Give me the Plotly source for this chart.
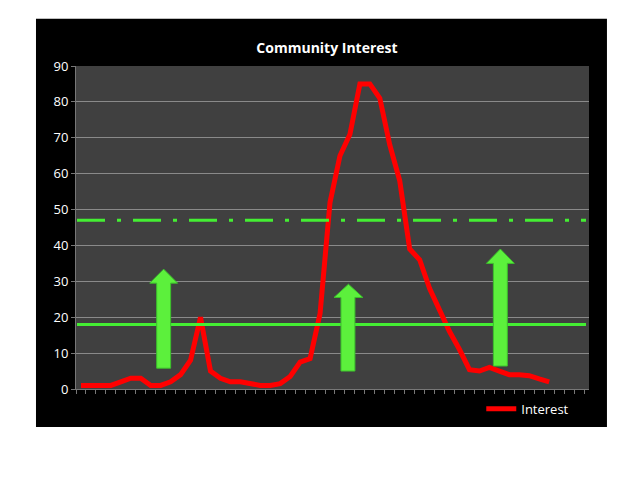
import plotly.graph_objects as go

interest = [1, 1, 1, 1, 2, 3, 3, 1, 1, 2, 4, 8, 20, 5, 3, 2, 2, 1.5, 1, 1, 1.5, 3.5, 7.5, 8.5,
            21, 52, 65, 71, 85, 85, 81, 68, 58, 39, 36, 28, 22, 16, 11, 5.4, 5, 6, 5, 4, 4, 3.7, 2.8, 2]
x_idx = list(range(len(interest)))
lower_level = 18
upper_level = 47
yticks = [0, 10, 20, 30, 40, 50, 60, 70, 80, 90]
# arrows: shaft_x0, shaft_x1, head_x0, head_x1, bottom, head_base, top
arrows = [(7.6, 9.0, 6.9, 9.7, 5.8, 29.5, 33.4),
          (26.1, 27.5, 25.4, 28.3, 5.0, 25.5, 29.2),
          (41.4, 42.8, 40.7, 43.5, 6.4, 35.0, 39.0)]

fig = go.Figure()
fig.add_trace(go.Scatter(x=x_idx, y=interest, mode="lines", name="Interest",
                         line=dict(color="#ff0000", width=5)))
fig.add_trace(go.Scatter(x=[-0.4, 50.7], y=[lower_level] * 2, mode="lines", showlegend=False,
                         line=dict(color="#44ee33", width=3), hoverinfo="skip"))
fig.add_trace(go.Scatter(x=[-0.4, 50.7], y=[upper_level] * 2, mode="lines", showlegend=False,
                         line=dict(color="#44ee33", width=3, dash="28px,12px,4px,12px"), hoverinfo="skip"))

shapes = [
    dict(type="rect", xref="paper", yref="paper", x0=-0.078, x1=1.035, y0=-0.118, y1=1.146,
         fillcolor="black", line_width=0, layer="below"),
    dict(type="rect", xref="paper", yref="paper", x0=0, x1=1, y0=0, y1=1,
         fillcolor="#404040", line_width=0, layer="below"),
]
for sx0, sx1, hx0, hx1, b, hb, t in arrows:
    xm = (hx0 + hx1) / 2
    path = (f"M {sx0},{b} L {sx1},{b} L {sx1},{hb} L {hx1},{hb} L {xm},{t} "
            f"L {hx0},{hb} L {sx0},{hb} Z")
    shapes.append(dict(type="path", path=path, xref="x", yref="y",
                       fillcolor="#5cf03c", line=dict(color="#3cc02c", width=1), layer="above"))

fig.update_layout(
    width=638, height=478, paper_bgcolor="white", plot_bgcolor="#404040",
    margin=dict(l=68, r=57, t=58, b=97),
    shapes=shapes,
    title=dict(text="<b>Community Interest</b>", x=0.5, xanchor="center", y=0.917, yanchor="middle",
               font=dict(color="white", size=14, family="Open Sans")),
    font=dict(family="Open Sans", color="white", size=12),
    xaxis=dict(range=[-0.5, 51], showgrid=False, showticklabels=False, ticks="outside",
               tick0=-0.5, dtick=1, ticklen=4, tickcolor="#777", showline=True, linecolor="#777",
               zeroline=False),
    yaxis=dict(range=[0, 90], tickvals=yticks, gridcolor="#8a8a8a", gridwidth=1, zeroline=False,
               showline=True, linecolor="#777", ticks="outside", ticklen=4, tickcolor="#777",
               tickfont=dict(color="white", size=13)),
    legend=dict(x=0.79, y=-0.015, xanchor="left", yanchor="top", bgcolor="rgba(0,0,0,0)",
                font=dict(color="white", size=13)),
    showlegend=True,
)
fig.write_html("out.html")
